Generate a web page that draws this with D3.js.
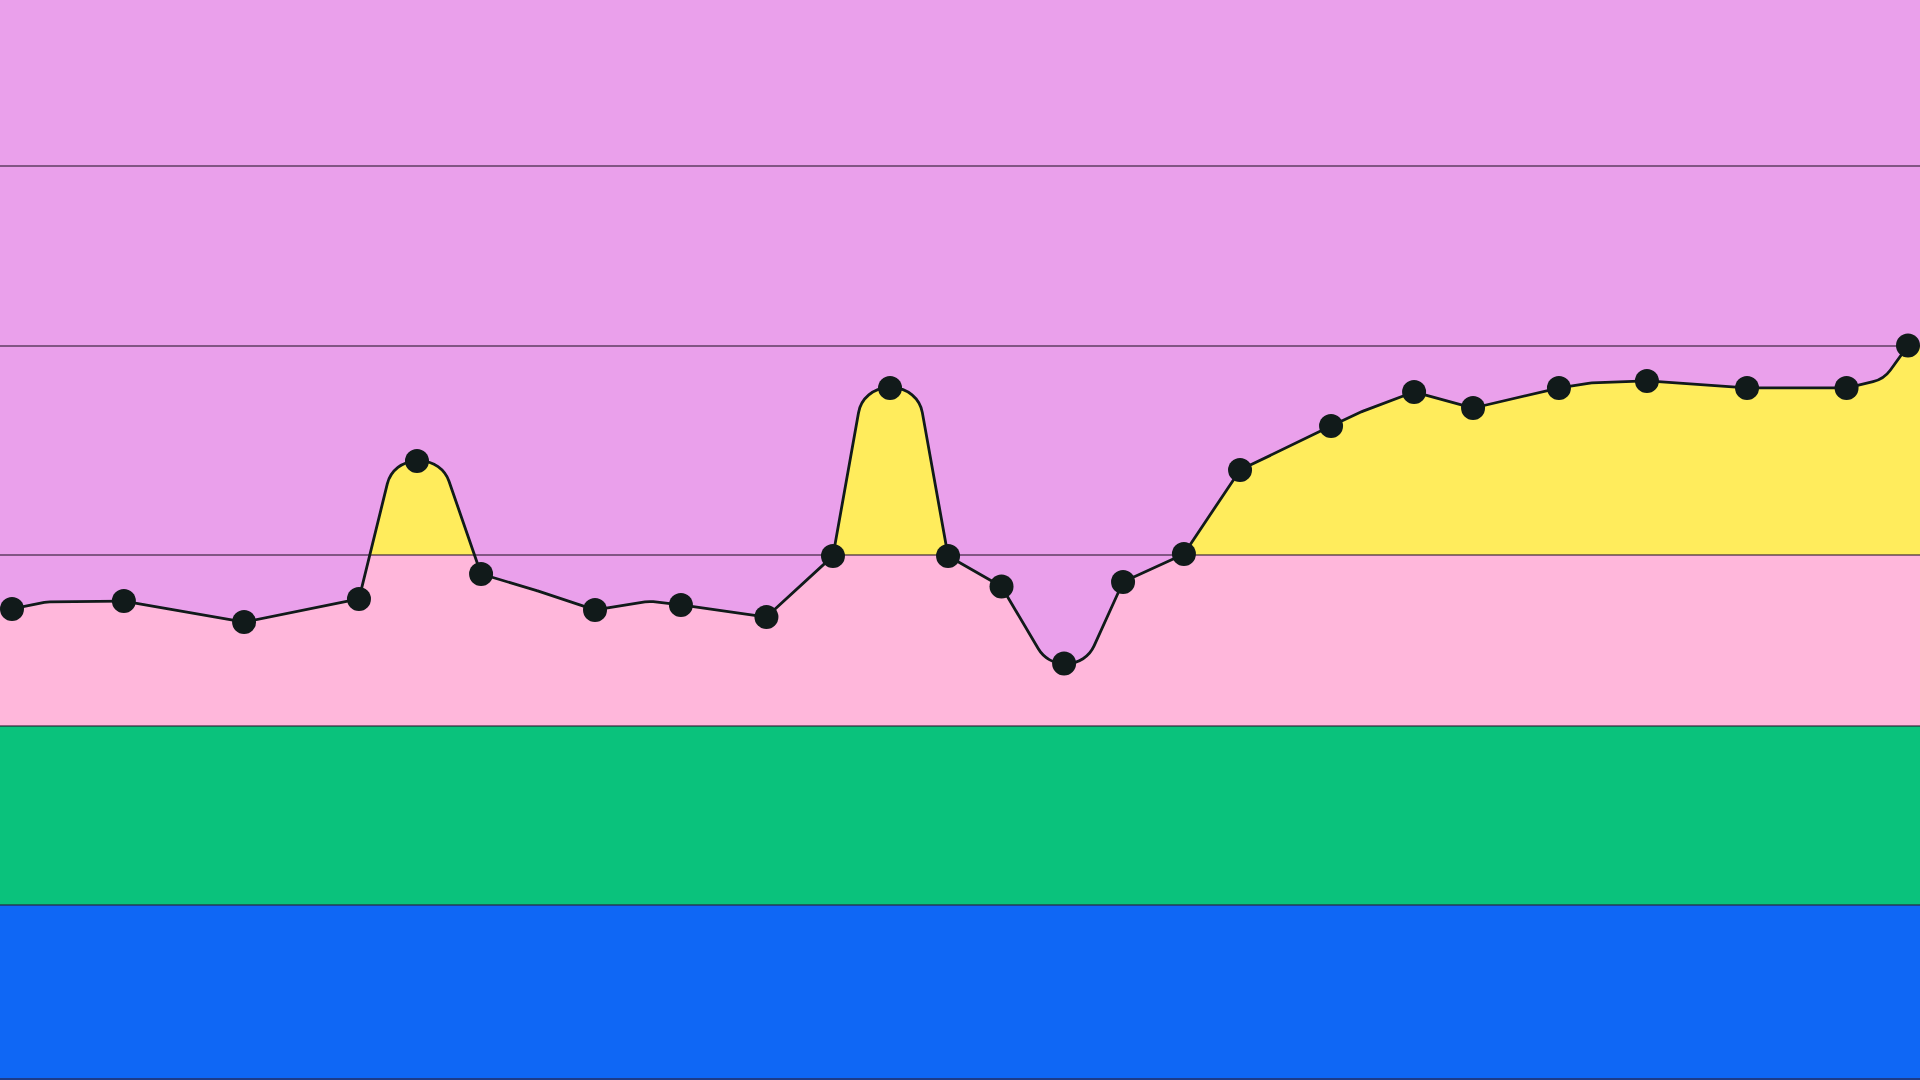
<!DOCTYPE html>
<html>
<head>
<meta charset="utf-8">
<title>Line over bands</title>
<script src="https://cdn.jsdelivr.net/npm/d3@7"></script>
<style>
    html, body { margin: 0; padding: 0; overflow: hidden; background: #eaa0eb; }
    svg { display: block; }
</style>
</head>
<body>
<div id="chart"></div>
<script>
"use strict"

// x: position along the series (0..100), y: value
var markX = [0, 5.9, 12.24, 18.3, 21.36, 24.74, 30.75, 35.28, 39.79, 43.3, 46.31, 49.37, 52.19,
    55.49, 58.6, 61.81, 64.77, 69.57, 73.95, 77.06, 81.59, 86.23, 91.51, 96.76, 100]
var markY = [26.86, 27.31, 26.11, 27.43, 35.31, 28.86, 26.8, 27.09, 26.4, 29.89, 39.49, 29.89, 28.14,
    23.74, 28.4, 30.0, 34.8, 37.31, 39.26, 38.34, 39.49, 39.89, 39.49, 39.49, 41.91]

// bends of the line that carry no marker
var bendX = [1.85, 20.09, 22.68, 27.7, 33.6, 44.88, 47.78, 54.59, 56.65, 71.2, 83.23, 98.73]
var bendY = [27.26, 35.31, 35.31, 27.9, 27.3, 39.49, 39.49, 23.74, 23.74, 38.14, 39.77, 40.0]

// band edges (value units), bottom to top
var bandEdges = [0, 9.94, 20.17, 29.94, 41.89, 52.17]
var baseline = 29.94

var width = 1920
var height = 1080

var colors = {
    violet: "#eaa0eb",
    pink: "#ffb7db",
    yellow: "#ffec5c",
    green: "#0ac27c",
    blue: "#0f67f5",
    ink: "#111a1a",
    grid: "#2a1a30"
}

var xScale = d3.scaleLinear().domain([0, 100]).range([12, 1908])
var yScale = d3.scaleLinear().domain([0, 10]).range([1079, 904])

var markers = markX.map(function (d, i) { return { x: d, y: markY[i], mark: true } })
var bends = bendX.map(function (d, i) { return { x: d, y: bendY[i], mark: false } })
var points = markers.concat(bends).sort(function (a, b) { return a.x - b.x })

// straight segments, corners turned with circular arcs (wider at the unmarked bends)
function roundedLine(data) {
    var pts = data.map(function (d) {
        return { px: xScale(d.x), py: yScale(d.y), r: d.mark ? 14 : 30 }
    })
    // a point in the middle of a straight run is no corner
    pts = pts.filter(function (p, i) {
        if (i === 0 || i === pts.length - 1) return true
        var a = pts[i - 1], b = pts[i + 1]
        var cross = (p.px - a.px) * (b.py - p.py) - (p.py - a.py) * (b.px - p.px)
        return Math.abs(cross) > 1
    })
    var path = d3.path()
    var n = pts.length
    path.moveTo(pts[0].px, pts[0].py)
    for (var i = 1; i < n - 1; i++) {
        var p0 = pts[i - 1], p1 = pts[i], p2 = pts[i + 1]
        var d1 = Math.hypot(p1.px - p0.px, p1.py - p0.py)
        var d2 = Math.hypot(p2.px - p1.px, p2.py - p1.py)
        var cos = ((p1.px - p0.px) * (p2.px - p1.px) + (p1.py - p0.py) * (p2.py - p1.py)) / (d1 * d2)
        var half = Math.sqrt((1 - cos) / (1 + cos))
        if (half < 1e-3) { path.lineTo(p1.px, p1.py); continue }
        var t = Math.min(p1.r * half, d1 / 2, d2 / 2)
        path.arcTo(p1.px, p1.py, p2.px, p2.py, t / half)
    }
    path.lineTo(pts[n - 1].px, pts[n - 1].py)
    return path.toString()
}

var svg = d3.select("#chart").append("svg")
    .attr("width", width)
    .attr("height", height)

var defs = svg.append("defs")
defs.append("clipPath").attr("id", "aboveBase")
    .append("rect")
    .attr("x", 0).attr("y", 0)
    .attr("width", width).attr("height", yScale(baseline))
defs.append("clipPath").attr("id", "belowBase")
    .append("rect")
    .attr("x", 0).attr("y", yScale(baseline))
    .attr("width", width).attr("height", yScale(bandEdges[2]) - yScale(baseline))

// background bands
var bands = [
    { lo: bandEdges[2], hi: 80, fill: colors.violet },
    { lo: bandEdges[1], hi: bandEdges[2], fill: colors.green },
    { lo: -2, hi: bandEdges[1], fill: colors.blue }
]
svg.selectAll(".band").data(bands).enter().append("rect")
    .attr("class", "band")
    .attr("x", 0)
    .attr("width", width)
    .attr("y", function (d) { return yScale(d.hi) })
    .attr("height", function (d) { return yScale(d.lo) - yScale(d.hi) })
    .attr("fill", function (d) { return d.fill })

// region under the line, down to the pink band's floor
var linePath = roundedLine(points)
var first = points[0], last = points[points.length - 1]
var floor = yScale(bandEdges[2])
var areaPath = "M0," + yScale(first.y) + "L" + linePath.slice(1) +
    "L" + width + "," + yScale(last.y) +
    "L" + width + "," + floor + "L0," + floor + "Z"

svg.append("path")
    .attr("d", areaPath)
    .attr("fill", colors.yellow)
    .attr("clip-path", "url(#aboveBase)")

svg.append("path")
    .attr("d", areaPath)
    .attr("fill", colors.pink)
    .attr("clip-path", "url(#belowBase)")

// grid lines
svg.selectAll(".grid").data(bandEdges).enter().append("line")
    .attr("class", "grid")
    .attr("x1", 0)
    .attr("x2", width)
    .attr("y1", function (d) { return yScale(d) })
    .attr("y2", function (d) { return yScale(d) })
    .attr("stroke", colors.grid)
    .attr("stroke-opacity", 0.55)
    .attr("stroke-width", 2)

svg.append("path")
    .attr("d", linePath)
    .attr("fill", "none")
    .attr("stroke", colors.ink)
    .attr("stroke-width", 2.8)
    .attr("stroke-linejoin", "round")
    .attr("stroke-linecap", "round")

svg.selectAll(".dot").data(markers).enter().append("circle")
    .attr("class", "dot")
    .attr("cx", function (d) { return xScale(d.x) })
    .attr("cy", function (d) { return yScale(d.y) })
    .attr("r", 12)
    .attr("fill", colors.ink)
</script>
</body>
</html>
